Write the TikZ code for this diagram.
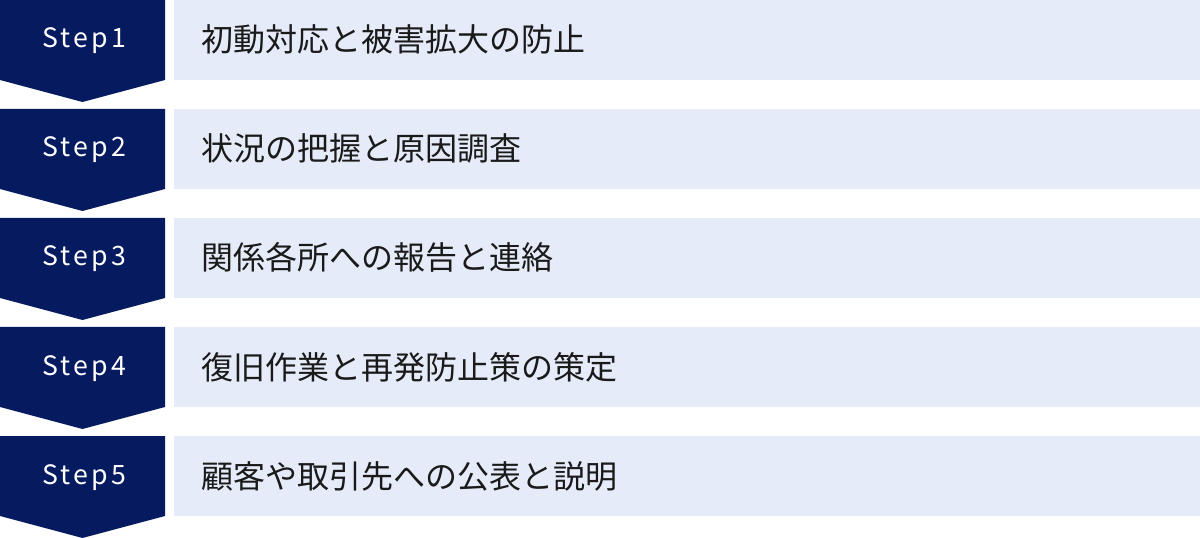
\documentclass[tikz,border=0pt]{standalone}
\usepackage{fontspec}
\setmainfont{Noto Sans CJK JP}
\newfontfamily\stepfont[LetterSpace=12]{Noto Sans CJK JP}
\usepackage{tikz}
\definecolor{stepnavy}{HTML}{061A60}
\definecolor{taskblue}{HTML}{E5EBF8}
\definecolor{taskink}{HTML}{1A1A1A}

\begin{document}
\begin{tikzpicture}[x=0.75pt,y=-0.75pt]
		\tikzstyle{StepLabel}=[text=white,inner sep=0pt,anchor=base,font=\stepfont\fontsize{20pt}{22pt}\selectfont]
		\tikzstyle{TaskText}=[text=taskink,inner sep=0pt,anchor=base west,font=\fontsize{24pt}{28pt}\selectfont]
		\useasboundingbox (0,0) rectangle (1200,538);
		\foreach \n/\task in {1/初動対応と被害拡大の防止,
		                      2/状況の把握と原因調査,
		                      3/関係各所への報告と連絡,
		                      4/復旧作業と再発防止策の策定,
		                      5/顧客や取引先への公表と説明}
		{
			\pgfmathsetmacro{\ytop}{(\n-1)*109}
			% badge with arrow point
			\fill[stepnavy] (0,\ytop) -- ++(165,0) -- ++(0,80) -- ++(-82.5,22) -- ++(-82.5,-22) -- cycle;
			\node[StepLabel] (step\n) at (84,\ytop+48) {Step\n};
			\fill[taskblue] (174,\ytop) rectangle (1200,\ytop+80);
			\node[TaskText] (task\n) at (201,\ytop+52) {\task};
		}
	\end{tikzpicture}
\end{document}
